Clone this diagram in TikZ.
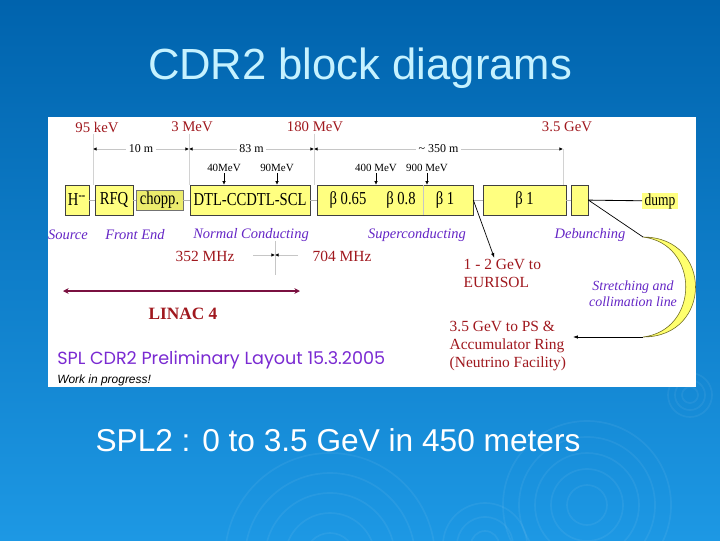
\documentclass[tikz,border=0pt]{standalone}
\usepackage{fontspec}
\setmainfont{Liberation Sans}
\newfontfamily\tms{Liberation Serif}
\newfontfamily\tmsnarrow[FakeStretch=0.8]{Liberation Serif}
\newfontfamily\hand{Poppins}
\usepackage{xcolor}
\usetikzlibrary{arrows.meta,positioning}

\definecolor{slidetop}{HTML}{0063AD}
\definecolor{slidebot}{HTML}{1D98E4}
\definecolor{titlecyan}{HTML}{C6F2FF}
\definecolor{boxyellow}{HTML}{FFFF80}
\definecolor{energyred}{HTML}{A0181E}
\definecolor{regionviolet}{HTML}{6526C6}
\definecolor{handviolet}{HTML}{7A2AD2}
\definecolor{linacred}{HTML}{7A1040}

\begin{document}
\begin{tikzpicture}[x=0.025cm,y=-0.025cm,
  blk/.style={rectangle,draw=black!75,fill=boxyellow,inner sep=0pt,
              minimum height=0.75cm,font=\tmsnarrow\fontsize{13}{14}\selectfont},
  chopbox/.style={rectangle,draw=black!55,fill=boxyellow!85!olive,inner sep=0pt,
              minimum height=0.5cm,font=\tmsnarrow\fontsize{13}{14}\selectfont},
  dumpbox/.style={rectangle,fill=boxyellow,inner sep=0pt,minimum height=0.42cm,
              font=\tmsnarrow\fontsize{12}{13}\selectfont},
  inbox/.style={inner sep=0pt,font=\tmsnarrow\fontsize{13}{14}\selectfont},
  elab/.style={text=energyred,inner sep=1pt,font=\tms\fontsize{10.5}{12}\selectfont},
  mlab/.style={inner sep=1pt,font=\tms\fontsize{7.8}{9}\selectfont},
  dimlab/.style={fill=white,text=black,inner sep=2pt,font=\tms\fontsize{8.5}{10}\selectfont},
  reglab/.style={text=regionviolet,inner sep=1pt,font=\tms\itshape\fontsize{10.3}{12}\selectfont},
  redtxt/.style={text=energyred,inner sep=1pt,align=left,
              font=\tms\fontsize{11}{12.8}\selectfont},
  link/.style={gray!60,line width=0.6pt},
  beam/.style={black,line width=0.6pt},
  refline/.style={gray!35,line width=0.6pt},
  dimline/.style={gray!45,line width=0.6pt},
  tick/.style={-{Latex[length=2.5pt,width=2.5pt]},black,line width=0.4pt},
  arr/.style={-{Latex[length=3.5pt,width=2.5pt]},black,line width=0.5pt},
  ring/.style={draw=olive!70!black,fill=boxyellow!85!yellow,line width=0.4pt},
]
\useasboundingbox (0,0) rectangle (720,540);
%% slide background
\shade[top color=slidetop,bottom color=slidebot] (0,0) rectangle (720,540);
\begin{scope}
  \clip (0,0) rectangle (720,540);
  \begin{scope}[white,opacity=0.06,line width=1.2pt]
    \foreach \r in {8,15,22} \draw (690,395) circle[radius=\r*0.025cm];
    \foreach \r in {20,36,52,68,84} \draw (587,505) circle[radius=\r*0.025cm];
    \foreach \r in {25,45,65,85,105} \draw (330,558) circle[radius=\r*0.025cm];
    \foreach \r in {14,28,42} \draw (485,545) circle[radius=\r*0.025cm];
  \end{scope}
\end{scope}
\node[text=titlecyan,font=\fontsize{31}{36}\selectfont] (title) at (360,68) {CDR2 block diagrams};
\node[text=white,font=\fontsize{22.5}{26}\selectfont] (subtitle) at (338,440) {SPL2 : 0 to 3.5 GeV in 450 meters};

%% white panel
\fill[white] (48,117) rectangle (696,387);

%% energies and distances
\node[elab] (e95)  at (97,127)  {95 keV};
\node[elab] (e3)   at (192,127) {3 MeV};
\node[elab] (e180) at (315,127) {180 MeV};
\node[elab] (e35)  at (567,127) {3.5 GeV};

\coordinate (d95)  at (93,149);
\coordinate (d3)   at (189,149);
\coordinate (d180) at (314,149);
\coordinate (d35)  at (563,149);

%% beam line
\node[blk,minimum width=0.6cm]   (hminus) at (77,200)    {H\textsuperscript{\textbf{--}}};
\node[blk,minimum width=0.95cm]  (rfq)    at (114,200)   {RFQ};
\node[chopbox,minimum width=1.175cm] (chopp) at (159.5,200) {chopp.};
\node[blk,minimum width=3cm]     (dtl)    at (250,200)   {DTL-CCDTL-SCL};
\node[blk,minimum width=3.9cm]   (sc)     at (395,200)   {};
\node[inbox] (b065) at (348,200) {β 0.65};
\node[inbox] (b08)  at (401,200) {β 0.8};
\node[inbox] (b1a)  at (445,200) {β 1};
\node[blk,minimum width=2.075cm] (b1b)    at (524.5,200) {β 1};
\node[blk,minimum width=0.425cm] (deb)    at (579.5,200) {};
\node[dumpbox,minimum width=0.88cm] (dump) at (660,201)   {dump};
\draw[gray!45,line width=0.4pt] (sc.north -| 423,0) -- (sc.south -| 423,0);

\draw[refline] (d95 |- e95.south) -- (d95 |- hminus.north);
\draw[refline] (d3 |- e3.south) -- (d3 |- dtl.north);
\draw[refline] (d180 |- e180.south) -- (d180 |- sc.north);
\draw[refline] (d35) -- (d35 |- b1b.north);

\draw[dimline,{Latex[length=2.5pt,width=2.5pt,color=black]}-{Latex[length=2.5pt,width=2.5pt,color=black]}]
  (d95) -- node[dimlab] {10 m} (d3);
\draw[dimline,{Latex[length=2.5pt,width=2.5pt,color=black]}-{Latex[length=2.5pt,width=2.5pt,color=black]}]
  (d3) -- node[dimlab] {83 m} (d180);
\draw[dimline,{Latex[length=2.5pt,width=2.5pt,color=black]}-{Latex[length=2.5pt,width=2.5pt,color=black]}]
  (d180) -- node[dimlab] {\textasciitilde\ 350 m} (d35);

\node[mlab] (m40)  at (224,168) {40MeV};
\node[mlab] (m90)  at (277,168) {90MeV};
\node[mlab] (m400) at (376,168) {400 MeV};
\node[mlab] (m900) at (427,168) {900 MeV};
\draw[tick] (m40.south)  -- (m40.south |- dtl.north);
\draw[tick] (m90.south)  -- (m90.south |- dtl.north);
\draw[tick] (m400.south) -- (m400.south |- sc.north);
\draw[tick] (m900.south) -- (m900.south |- sc.north);

\draw[link] (hminus) -- (rfq);
\draw[link] (rfq) -- (chopp);
\draw[link] (chopp) -- (dtl);
\draw[link] (dtl) -- (sc);
\draw[link] (sc) -- (b1b);
\draw[link] (b1b) -- (deb);
\draw[beam] (deb) -- (dump);

%% section names
\node[reglab] (source) at (68,235)  {Source};
\node[reglab] (front)  at (135,235) {Front End};
\node[reglab] (normal) at (251,235) {Normal Conducting};
\node[reglab] (super)  at (417,235) {Superconducting};
\node[reglab] (debun)  at (590,235) {Debunching};

%% frequencies
\node[redtxt] (f352) at (205,256) {352 MHz};
\node[redtxt] (f704) at (342,256) {704 MHz};
\coordinate (fA) at (253,255);
\coordinate (fB) at (298,255);
\coordinate (fS) at (275,255);
\draw[dimline] (fS |- 0,241) -- (fS |- 0,275);
\draw[dimline,-{Latex[length=2.5pt,width=2.5pt,color=black]}] (fA) -- (fS);
\draw[dimline,-{Latex[length=2.5pt,width=2.5pt,color=black]}] (fB) -- (fS);

%% linac 4
\coordinate (linacL) at (63,291);
\coordinate (linacR) at (300,291);
\draw[linacred,line width=1.3pt,{Stealth[length=4pt,width=4pt]}-{Stealth[length=4pt,width=4pt]}] (linacL) -- (linacR);
\node[text=energyred,font=\tms\bfseries\fontsize{12.3}{14}\selectfont] (linac) at (183,314) {LINAC 4};

%% transfer lines
\node[redtxt,anchor=north west] (eurisol) at (462,258) {1 - 2 GeV to\\EURISOL};
\draw[arr] (sc.east) -- ([xshift=-0.2cm]eurisol.north);

\coordinate (ringtop) at (643,237);
\coordinate (ringbot) at (643,337);
\draw[ring] (ringtop) .. controls (713,237) and (713,337) .. (ringbot)
  .. controls (700,330) and (700,244) .. cycle;
\draw[beam,line width=0.5pt] (deb.east) -- (ringtop);
\node[reglab,align=center,font=\tms\itshape\fontsize{9.9}{11.4}\selectfont] (stretch) at (633,294) {Stretching and\\collimation line};

\node[redtxt,anchor=north west] (ps) at (448,320) {3.5 GeV to PS \&\\Accumulator Ring\\(Neutrino Facility)};
\coordinate (psin) at (573,337);
\draw[arr] (ringbot) -- (psin);

%% notes
\node[text=handviolet,anchor=west,inner sep=0pt,font=\hand\fontsize{12.5}{14}\selectfont] (layout) at (57,360) {SPL CDR2 Preliminary Layout 15.3.2005};
\node[anchor=west,inner sep=0pt,font=\itshape\fontsize{8.5}{10}\selectfont] (wip) at (57,380) {Work in progress!};
\end{tikzpicture}
\end{document}
